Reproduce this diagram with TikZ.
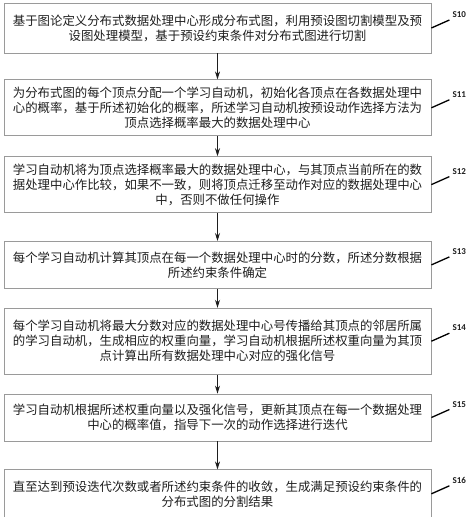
\documentclass[tikz,border=0pt]{standalone}
\usepackage{fontspec}
\setmainfont{Noto Sans CJK SC}
\newfontfamily\labfont{Carlito}
\usetikzlibrary{arrows.meta,positioning}
\definecolor{boxline}{HTML}{9A9A9A}
\definecolor{ink}{HTML}{1E1E1E}
\tikzset{
  stepbox/.style={
    rectangle, draw=boxline, thick, text=ink,
    minimum width=427pt, minimum height=#1, text width=420pt,
    font=\fontsize{12.4}{15}\selectfont, align=center,
    inner sep=0pt
  },
  stepbox/.default=50pt,
  flowarrow/.style={
    -{Stealth[length=8pt,width=5pt]}, thick, color=ink
  },
  leaderline/.style={black, line width=1.3pt},
  steplabel/.style={font=\labfont\bfseries\fontsize{9}{10}\selectfont, text=ink,
    inner sep=1pt, anchor=south west}
}

\begin{document}
\begin{tikzpicture}[x=1pt, y=-1pt]
\useasboundingbox (0,0) rectangle (474,517);
\node[stepbox=50pt] (b10) at (217.5,28) {基于图论定义分布式数据处理中心形成分布式图，利用预设图切割模型及预\\设图处理模型，基于预设约束条件对分布式图进行切割};
\node[stepbox=56pt, below=26pt of b10] (b11) {为分布式图的每个顶点分配一个学习自动机，初始化各顶点在各数据处理中\\心的概率，基于所述初始化的概率，所述学习自动机按预设动作选择方法为\\顶点选择概率最大的数据处理中心};
\node[stepbox=56pt, below=20pt of b11] (b12) {学习自动机将为顶点选择概率最大的数据处理中心，与其顶点当前所在的数\\据处理中心作比较，如果不一致，则将顶点迁移至动作对应的数据处理中心\\中，否则不做任何操作};
\node[stepbox=47pt, below=28pt of b12] (b13) {每个学习自动机计算其顶点在每一个数据处理中心时的分数，所述分数根据\\所述约束条件确定};
\node[stepbox=66pt, below=19pt of b13] (b14) {每个学习自动机将最大分数对应的数据处理中心号传播给其顶点的邻居所属\\的学习自动机，生成相应的权重向量，学习自动机根据所述权重向量为其顶\\点计算出所有数据处理中心对应的强化信号};
\node[stepbox=47pt, below=19pt of b14] (b15) {学习自动机根据所述权重向量以及强化信号，更新其顶点在每一个数据处理\\中心的概率值，指导下一次的动作选择进行迭代};
\node[stepbox=48pt, below=28pt of b15] (b16) {直至达到预设迭代次数或者所述约束条件的收敛，生成满足预设约束条件的\\分布式图的分割结果};

% flow
\foreach \a/\b in {b10/b11, b11/b12, b12/b13, b13/b14, b14/b15, b15/b16}
  \draw[flowarrow] (\a.south) -- (\b.north);

% step labels
\foreach \s in {10,11,12,13,14,15,16} {
  \node[steplabel] (s\s) at ([shift={(20pt,9pt)}]b\s.east) {S\s};
  \draw[leaderline] (b\s.east) -- ([shift={(-2pt,-1pt)}]s\s.south west);
}
\end{tikzpicture}
\end{document}
